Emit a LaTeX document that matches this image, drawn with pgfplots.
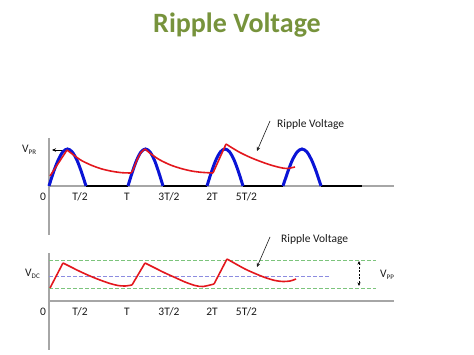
\documentclass[border=0pt]{standalone}
\usepackage{fontspec}
\setmainfont{Carlito}
\usepackage{pgfplots}
\pgfplotsset{compat=1.18}
\usetikzlibrary{arrows.meta}
\definecolor{titlegreen}{HTML}{77933C}
\definecolor{rippred}{HTML}{E3171D}
\definecolor{pulseblue}{HTML}{0A14D6}
\definecolor{axgray}{HTML}{A6A6A6}
\definecolor{dgreen}{HTML}{7CC47C}
\definecolor{dblue}{HTML}{8C8CE0}
\definecolor{txt}{HTML}{1A1A1A}
\begin{document}
\begin{tikzpicture}
\useasboundingbox (0,0) rectangle (474pt,355pt);
\begin{axis}[at={(0,0)},anchor=south west,scale only axis,
  width=474pt,height=355pt,xmin=0,xmax=474,ymin=0,ymax=355,
  y dir=reverse,hide axis,clip=false]
% ---------- top chart axes ----------
\addplot[axgray,line width=1.2pt] coordinates {(49,138)(49,235)};
\addplot[axgray,line width=1.2pt] coordinates {(49,186)(394,186)};
\addplot[black,line width=2.5pt] coordinates {(86,186)(128,186)};
\addplot[black,line width=2.5pt] coordinates {(163,186)(207,186)};
\addplot[black,line width=2.5pt] coordinates {(243,186)(283,186)};
\addplot[black,line width=2.5pt] coordinates {(321,186)(362,186)};
% V_PR arrow
\addplot[black,line width=0.6pt,-{Stealth[length=4pt,width=3.5pt]}] coordinates {(66,150)(52,150)};
% blue pulses
\addplot[pulseblue,line width=3pt,smooth,line cap=butt] coordinates {(49,186)(53.6,171.8)(58.3,159.8)(62.9,151.8)(67.5,149)(72.1,151.8)(76.8,159.8)(81.4,171.8)(86,186)};
\addplot[pulseblue,line width=3pt,smooth,line cap=butt] coordinates {(128,186)(132.4,171.8)(136.8,159.8)(141.1,151.8)(145.5,149)(149.9,151.8)(154.3,159.8)(158.6,171.8)(163,186)};
\addplot[pulseblue,line width=3pt,smooth,line cap=butt] coordinates {(207,186)(211.5,171.8)(216,159.8)(220.5,151.8)(225,149)(229.5,151.8)(234,159.8)(238.5,171.8)(243,186)};
\addplot[pulseblue,line width=3pt,smooth,line cap=butt] coordinates {(283,186)(287.8,171.8)(292.5,159.8)(297.3,151.8)(302,149)(306.8,151.8)(311.5,159.8)(316.3,171.8)(321,186)};
% red top
\addplot[rippred,line width=1.6pt] coordinates {(50,176)(67,150)};
\addplot[rippred,line width=1.6pt,smooth] coordinates {(67,150)(72,153.8)(77,157.5)(82,160.8)(92,165.5)(102,169)(112,171.3)(122,172.7)(131,173)};
\addplot[rippred,line width=1.6pt,smooth] coordinates {(131,173)(133,170)(137,160)(141,152.5)(145,149)};
\addplot[rippred,line width=1.6pt,smooth] coordinates {(145,149)(150,153.2)(155,156.8)(160,160)(170,164.8)(180,168.2)(190,170.7)(200,172.2)(213,173)};
\addplot[rippred,line width=1.6pt] coordinates {(213,173)(226,144)};
\addplot[rippred,line width=1.6pt,smooth] coordinates {(226,144)(232,147.8)(240,152.5)(250,157.3)(260,161.3)(270,164.8)(280,167.5)(287,168.5)(295,167)};
% annotation top
\addplot[txt,line width=0.6pt,-{Stealth[length=4pt,width=3.5pt]}] coordinates {(270,121)(257,151)};
% ---------- bottom chart ----------
\addplot[axgray,line width=1.2pt] coordinates {(49,253)(49,350)};
\addplot[axgray,line width=1.2pt] coordinates {(49,301)(394,301)};
\addplot[dgreen,line width=0.8pt,dash pattern=on 3.5pt off 2.5pt] coordinates {(49,260)(376,260)};
\addplot[dgreen,line width=0.8pt,dash pattern=on 3.5pt off 2.5pt] coordinates {(49,288)(376,288)};
\addplot[dblue,line width=0.8pt,dash pattern=on 3.5pt off 2.5pt] coordinates {(49,276)(330,276)};
\addplot[black,line width=0.6pt,dash pattern=on 2pt off 1.5pt,{Stealth[length=3.5pt,width=3pt]}-{Stealth[length=3.5pt,width=3pt]}] coordinates {(359,261)(359,286)};
\addplot[rippred,line width=1.6pt] coordinates {(50,288)(63,263)};
\addplot[rippred,line width=1.6pt,smooth] coordinates {(63,263)(70,266.5)(80,271.5)(90,276)(100,280)(110,283.5)(118,285.5)(125,286)(132,285)};
\addplot[rippred,line width=1.6pt] coordinates {(132,285)(145,263)};
\addplot[rippred,line width=1.6pt,smooth] coordinates {(145,263)(155,268)(165,273)(175,277.5)(185,282)(195,285.5)(203,286.5)(214,284)};
\addplot[rippred,line width=1.6pt] coordinates {(214,284)(227,259)};
\addplot[rippred,line width=1.6pt,smooth] coordinates {(227,259)(235,263.5)(245,269)(255,273.5)(265,277.5)(275,280.5)(283,281.5)(290,281)(296,279)};
\addplot[txt,line width=0.6pt,-{Stealth[length=4pt,width=3.5pt]}] coordinates {(270,237)(257,267)};
% ---------- text ----------
\node[anchor=base,inner sep=0,text=titlegreen,font=\fontsize{28}{30}\selectfont\bfseries] at (237,33) {Ripple Voltage};
\node[anchor=base west,inner sep=0,text=txt,font=\fontsize{11.5}{13}\selectfont] at (277,127.5) {Ripple Voltage};
\node[anchor=base west,inner sep=0,text=txt,font=\fontsize{11.5}{13}\selectfont] at (281,242.5) {Ripple Voltage};
\node[anchor=base west,inner sep=0,text=txt,font=\fontsize{11.5}{13}\selectfont] at (22,152.5) {V\raisebox{-0.35ex}{\fontsize{7}{8}\selectfont PR}};
\node[anchor=base west,inner sep=0,text=txt,font=\fontsize{11.5}{13}\selectfont] at (25,277) {V\raisebox{-0.35ex}{\fontsize{7}{8}\selectfont DC}};
\node[anchor=base west,inner sep=0,text=txt,font=\fontsize{11.5}{13}\selectfont] at (380,278) {V\raisebox{-0.35ex}{\fontsize{7}{8}\selectfont PP}};
% tick labels, top
\node[anchor=base,inner sep=0,text=txt,font=\fontsize{11.5}{13}\selectfont] at (43,201) {0};
\node[anchor=base,inner sep=0,text=txt,font=\fontsize{11.5}{13}\selectfont] at (80,201) {T/2};
\node[anchor=base,inner sep=0,text=txt,font=\fontsize{11.5}{13}\selectfont] at (127,201) {T};
\node[anchor=base,inner sep=0,text=txt,font=\fontsize{11.5}{13}\selectfont] at (169,201) {3T/2};
\node[anchor=base,inner sep=0,text=txt,font=\fontsize{11.5}{13}\selectfont] at (212,201) {2T};
\node[anchor=base,inner sep=0,text=txt,font=\fontsize{11.5}{13}\selectfont] at (246.5,201) {5T/2};
% tick labels, bottom
\node[anchor=base,inner sep=0,text=txt,font=\fontsize{11.5}{13}\selectfont] at (43,316) {0};
\node[anchor=base,inner sep=0,text=txt,font=\fontsize{11.5}{13}\selectfont] at (80,316) {T/2};
\node[anchor=base,inner sep=0,text=txt,font=\fontsize{11.5}{13}\selectfont] at (127,316) {T};
\node[anchor=base,inner sep=0,text=txt,font=\fontsize{11.5}{13}\selectfont] at (169,316) {3T/2};
\node[anchor=base,inner sep=0,text=txt,font=\fontsize{11.5}{13}\selectfont] at (212,316) {2T};
\node[anchor=base,inner sep=0,text=txt,font=\fontsize{11.5}{13}\selectfont] at (246.5,316) {5T/2};
\end{axis}
\end{tikzpicture}
\end{document}
